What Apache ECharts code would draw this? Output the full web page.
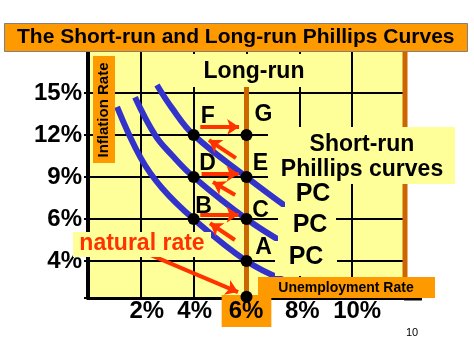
<!DOCTYPE html>
<html lang="en">
<head>
<meta charset="UTF-8">
<title>Phillips Curves</title>
<script src="https://cdn.jsdelivr.net/npm/echarts@6/dist/echarts.min.js"></script>
<style>
    html, body { margin: 0; padding: 0; background: #fff; }
    #container { width: 474px; height: 355px; }
</style>
</head>
<body>
<div id="container"></div>
<script>
var FONT = '"Liberation Sans", Arial, Helvetica, sans-serif';
var YELLOW = '#FFFF99';
var ORANGE = '#FF9900';
var BROWN = '#CC6600';
var BLUE = '#3333CC';
var RED = '#FF3300';

// x = unemployment rate (%), y = grid row (row 1 = 4%, row 2 = 6% ...)
var xTicks = [2, 4, 6, 8, 10];
var yLevels = [1, 2, 3, 4, 5];
var yLabels = ['4%', '6%', '9%', '12%', '15%'];

// short-run Phillips curves
var pc1 = [[1.1, 4.67], [2.0, 3.45], [2.8, 2.74], [4, 2], [6, 1], [7.4, 0.55]];
var pc2 = [[1.78, 4.9], [2.54, 4.0], [3.18, 3.52], [4, 3], [6, 2], [7.5, 1.4]];
var pc3 = [[2.61, 5.19], [3.18, 4.64], [4, 4], [6, 3], [7.6, 2.25]];

// long-run curve and right frame line
var longRun = [[6, 0.15], [6, 5.2]];
var rightEdge = [[12, 0.12], [12, 6]];

// labelled points
var pointNames = ['F', 'G', 'D', 'E', 'B', 'C', 'A', ''];
var pointX = [4, 6, 4, 6, 4, 6, 6, 6];
var pointY = [4, 4, 3, 3, 2, 2, 1, 0.15];
var labelOffsets = [[14, -18], [17, -20], [14, -13], [14, -13], [10, -12], [14, -8], [17, -13], [0, 0]];

// red arrows [from, to]
var arrows = [
    [[4.25, 4.19], [5.72, 4.19]],
    [[4.3, 3.08], [5.7, 3.08]],
    [[4.25, 2.1], [5.7, 2.1]],
    [[5.6, 3.45], [4.58, 3.88]],
    [[5.57, 2.57], [4.73, 2.88]],
    [[5.56, 1.5], [4.62, 1.9]],
    [[2.27, 1.17], [5.68, 0.26]]
];

// small horizontal nudges of the x tick labels (left, right padding)
var xLabelPad = { 2: [14, 2], 4: [10, 8], 6: [7, 8], 8: [11, 5], 10: [13, 3] };

var points = pointX.map(function (x, i) {
    return {
        value: [x, pointY[i]],
        label: { show: pointNames[i] !== '', formatter: pointNames[i], offset: labelOffsets[i] }
    };
});

function curve(data) {
    return {
        type: 'line',
        data: data,
        smooth: 0.4,
        showSymbol: false,
        lineStyle: { color: BLUE, width: 6 },
        z: 2
    };
}

var xRich = {};
xTicks.forEach(function (t) {
    xRich['t' + t] = {
        fontSize: 24, fontWeight: 'bold', color: '#000', fontFamily: FONT, lineHeight: 24,
        padding: [4, xLabelPad[t][1], 4, xLabelPad[t][0]],
        backgroundColor: t === 6 ? ORANGE : 'transparent'
    };
});

var option = {
    animation: false,
    title: {
        text: 'The Short-run and Long-run Phillips Curves',
        left: 4,
        top: 23,
        padding: [4, 13, 4, 13],
        backgroundColor: ORANGE,
        borderColor: '#808080',
        borderWidth: 1,
        textStyle: { fontSize: 21, fontWeight: 'bold', color: '#000', fontFamily: FONT, lineHeight: 21 }
    },
    grid: {
        left: 88, top: 51, width: 317, height: 247,
        show: true, backgroundColor: YELLOW, borderWidth: 0
    },
    xAxis: {
        type: 'value',
        min: 0,
        max: 12,
        interval: 2,
        axisLine: { lineStyle: { color: '#000', width: 3 } },
        axisTick: { show: false },
        splitLine: { lineStyle: { color: '#000', width: 2 } },
        axisLabel: {
            margin: 1,
            formatter: function (v) {
                if (xTicks.indexOf(v) < 0) return '';
                return '{t' + v + '|' + v + '%}';
            },
            rich: xRich
        }
    },
    yAxis: {
        type: 'value',
        min: 0.12,
        max: 6,
        axisLine: { show: true, lineStyle: { color: '#000', width: 4 } },
        axisTick: { show: true, length: 4, lineStyle: { color: '#000', width: 2 } },
        splitLine: { lineStyle: { color: '#000', width: 2 } },
        axisLabel: {
            margin: 6,
            fontSize: 24,
            fontWeight: 'bold',
            color: '#000',
            fontFamily: FONT,
            formatter: function (v) {
                var i = yLevels.indexOf(Math.round(v * 100) / 100);
                return i < 0 ? '' : yLabels[i];
            }
        }
    },
    series: [
        {
            type: 'line',
            data: rightEdge,
            showSymbol: false,
            lineStyle: { color: BROWN, width: 5 },
            z: 1
        },
        {
            type: 'line',
            data: longRun,
            showSymbol: false,
            lineStyle: { color: BROWN, width: 5 },
            z: 2
        },
        curve(pc1),
        curve(pc2),
        curve(pc3),
        {
            type: 'lines',
            coordinateSystem: 'cartesian2d',
            data: arrows.map(function (a) { return { coords: a }; }),
            symbol: ['none', 'arrow'],
            symbolSize: 12,
            lineStyle: { color: RED, width: 4, opacity: 1, curveness: 0 },
            z: 3
        },
        {
            type: 'scatter',
            data: points,
            symbolSize: 12,
            itemStyle: { color: '#000', opacity: 1 },
            label: {
                position: 'inside',
                color: '#000',
                opacity: 1,
                fontSize: 23,
                fontWeight: 'bold',
                fontFamily: FONT
            },
            z: 5
        }
    ],
    graphic: [
        // Long-run
        { type: 'rect', shape: { x: 189, y: 54, width: 118, height: 33 }, style: { fill: YELLOW }, z: 50 },
        { type: 'text', x: 254, y: 72, z: 51,
          style: { text: 'Long-run', font: 'bold 23px ' + FONT, fill: '#000', align: 'center', verticalAlign: 'middle' } },
        // Short-run Phillips curves
        { type: 'rect', shape: { x: 268, y: 127, width: 187, height: 57 }, style: { fill: YELLOW }, z: 50 },
        { type: 'text', x: 362, y: 145, z: 51,
          style: { text: 'Short-run', font: 'bold 23px ' + FONT, fill: '#000', align: 'center', verticalAlign: 'middle' } },
        { type: 'text', x: 362, y: 170, z: 51,
          style: { text: 'Phillips curves', font: 'bold 23px ' + FONT, fill: '#000', align: 'center', verticalAlign: 'middle' } },
        // PC labels
        { type: 'rect', shape: { x: 285, y: 184, width: 55, height: 23 }, style: { fill: YELLOW }, z: 50 },
        { type: 'text', x: 313, y: 194, z: 51,
          style: { text: 'PC', font: 'bold 25px ' + FONT, fill: '#000', align: 'center', verticalAlign: 'middle' } },
        { type: 'rect', shape: { x: 278, y: 207, width: 58, height: 34 }, style: { fill: YELLOW }, z: 50 },
        { type: 'text', x: 310, y: 225, z: 51,
          style: { text: 'PC', font: 'bold 25px ' + FONT, fill: '#000', align: 'center', verticalAlign: 'middle' } },
        { type: 'rect', shape: { x: 275, y: 241, width: 62, height: 35 }, style: { fill: YELLOW }, z: 50 },
        { type: 'text', x: 306, y: 257, z: 51,
          style: { text: 'PC', font: 'bold 25px ' + FONT, fill: '#000', align: 'center', verticalAlign: 'middle' } },
        // natural rate
        { type: 'rect', shape: { x: 73, y: 232, width: 138, height: 25 }, style: { fill: YELLOW }, z: 50 },
        { type: 'text', x: 142, y: 244, z: 51,
          style: { text: 'natural rate', font: 'bold 23px ' + FONT, fill: RED, align: 'center', verticalAlign: 'middle' } },
        // Inflation Rate
        { type: 'rect', shape: { x: 93, y: 56, width: 22, height: 107 }, style: { fill: ORANGE }, z: 50 },
        { type: 'text', x: 104, y: 110, rotation: Math.PI / 2, z: 51,
          style: { text: 'Inflation Rate', font: 'bold 15px ' + FONT, fill: '#000', align: 'center', verticalAlign: 'middle' } },
        // Unemployment Rate
        { type: 'line', shape: { x1: 404, y1: 299, x2: 422, y2: 299 }, style: { stroke: '#000', lineWidth: 3 }, z: 49 },
        { type: 'rect', shape: { x: 258, y: 277, width: 177, height: 21 }, style: { fill: ORANGE }, z: 50 },
        { type: 'text', x: 346, y: 288, z: 51,
          style: { text: 'Unemployment Rate', font: 'bold 14px ' + FONT, fill: '#000', align: 'center', verticalAlign: 'middle' } },
        // slide number
        { type: 'text', x: 412, y: 333, z: 51,
          style: { text: '10', font: '11px ' + FONT, fill: '#000', align: 'center', verticalAlign: 'middle' } }
    ]
};

var myChart = echarts.init(document.getElementById('container'));
myChart.setOption(option);
</script>
</body>
</html>
